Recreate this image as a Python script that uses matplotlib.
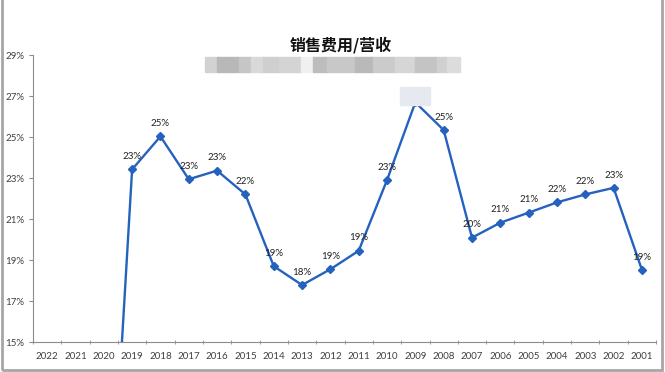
import matplotlib
matplotlib.use('Agg')
import matplotlib.pyplot as plt
from matplotlib.patches import Rectangle

plt.rcParams['font.family'] = ['Lato', 'Noto Sans CJK SC', 'DejaVu Sans']

years = ['2022', '2021', '2020', '2019', '2018', '2017', '2016', '2015', '2014', '2013', '2012',
         '2011', '2010', '2009', '2008', '2007', '2006', '2005', '2004', '2003', '2002', '2001']
ratio = [0.0, 0.0, 0.0, 23.42, 25.03, 22.94, 23.36, 22.2, 18.7, 17.78, 18.55,
         19.45, 22.9, 26.69, 25.34, 20.09, 20.82, 21.31, 21.81, 22.2, 22.52, 18.52]
y_ticks = [15, 17, 19, 21, 23, 25, 27, 29]
title = '销售费用/营收'

line_col = '#2462be'
axis_col = '#8c8c8c'
text_col = '#404040'

fig = plt.figure(figsize=(6.65, 3.72), dpi=100)
ax = fig.add_axes([0.0496, 0.0806, 0.937, 0.7715])

xs = list(range(len(years)))
ax.plot(xs, ratio, color=line_col, lw=1.7, marker='D', ms=4,
        markerfacecolor=line_col, markeredgecolor=line_col, clip_on=True, zorder=3)

for x, v in zip(xs, ratio):
    if v <= 0 or years[x] == '2009':
        continue
    ax.annotate('%d%%' % round(v), (x, v), xytext=(0, 6), textcoords='offset points',
                ha='center', va='bottom', fontsize=7, color='#222222')

ax.set_xlim(-0.5, len(years) - 0.5)
ax.set_ylim(15, 29)
ax.set_yticks(y_ticks)
ax.set_yticklabels(['%d%%' % t for t in y_ticks])
ax.set_xticks(xs)
ax.set_xticklabels(years)
ax.set_xticks([i - 0.5 for i in range(len(years) + 1)], minor=True)
ax.tick_params(axis='x', which='major', length=0, pad=7, labelsize=7, colors=text_col)
ax.tick_params(axis='x', which='minor', length=3, direction='inout', color=axis_col)
ax.tick_params(axis='y', length=3, direction='out', color=axis_col, labelsize=7,
               labelcolor=text_col, pad=3)

for s in ['top', 'right']:
    ax.spines[s].set_visible(False)
for s in ['left', 'bottom']:
    ax.spines[s].set_color(axis_col)
    ax.spines[s].set_linewidth(0.8)

fig.text(0.512, 0.878, title, ha='center', va='center', fontsize=11.5, fontweight='bold',
         family=['Noto Sans CJK SC', 'DejaVu Sans'], color='#111111')

# blurred subtitle, drawn as mosaic blocks
blocks = [(205, 12, '#d2d2d2'), (217, 22, '#b8b8b8'), (239, 12, '#c6c6c6'), (251, 12, '#d9d9d9'),
          (263, 16, '#cfcfcf'), (279, 22, '#d4d4d4'), (301, 12, '#f0f0f0'), (313, 14, '#bdbdbd'),
          (327, 28, '#c8c8c8'), (355, 18, '#b9b9b9'), (373, 22, '#cbcbcb'), (395, 20, '#d6d6d6'),
          (415, 22, '#c4c4c4'), (437, 10, '#d0d0d0'), (447, 13, '#dcdcdc')]
for x0, w, c in blocks:
    fig.patches.append(Rectangle((x0 / 665, 1 - 72 / 372), w / 665, 15 / 372,
                                 transform=fig.transFigure, color=c, zorder=1))
fig.patches.append(Rectangle((400 / 665, 1 - 105 / 372), 30 / 665, 18 / 372,
                             transform=fig.transFigure, color='#e6eaf0', zorder=5))

# chart border
fig.patches.append(Rectangle((2 / 665, 2 / 372), 660 / 665, 372 / 372, transform=fig.transFigure,
                             fill=False, edgecolor='#a6a6a6', lw=2))

fig.savefig('out.png', dpi=100)
